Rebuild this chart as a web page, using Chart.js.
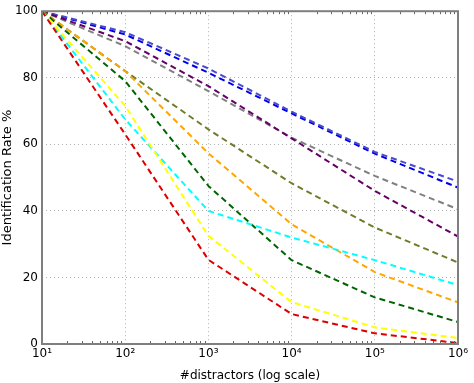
<!DOCTYPE html>
<html>
<head>
<meta charset="utf-8">
<script src="https://cdn.jsdelivr.net/npm/chart.js@4/dist/chart.umd.min.js"></script>
<style>
html,body{margin:0;padding:0;background:#fff;}
#wrap{width:474px;height:383px;position:relative;}
</style>
</head>
<body>
<div id="wrap"><canvas id="c" width="474" height="383"></canvas></div>
<script>
const distractors = [10, 100, 1000, 10000, 100000, 1000000];
const xMajorTicks = [10, 100, 1000, 10000, 100000, 1000000];
const xTickLabels = ['10\u00B9', '10\u00B2', '10\u00B3', '10\u2074', '10\u2075', '10\u2076'];
const yTicks = [0, 20, 40, 60, 80, 100];

const blueA  = [100, 93.7, 82.8, 69.8, 57.7, 48.8];
const blueB  = [100, 93.0, 81.5, 69.3, 57.2, 47.0];
const grayS  = [100, 89.5, 76.0, 62.0, 50.5, 40.5];
const purple = [100, 91.0, 77.5, 61.8, 46.0, 32.3];
const olive  = [100, 82.0, 64.5, 48.3, 35.0, 24.5];
const orange = [100, 82.0, 57.3, 36.0, 21.6, 12.5];
const green  = [100, 79.0, 47.5, 25.2, 14.0, 6.6];
const cyan   = [100, 67.5, 40.0, 32.0, 25.2, 17.7];
const yellow = [100, 71.5, 32.5, 12.6, 5.0, 1.8];
const red    = [100, 63.0, 25.3, 9.0, 3.2, 0.3];

const seriesList = [
  {name: 'red', data: red, color: '#dd0000'},
  {name: 'yellow', data: yellow, color: '#ffff00'},
  {name: 'cyan', data: cyan, color: '#00ffff'},
  {name: 'green', data: green, color: '#006400'},
  {name: 'orange', data: orange, color: '#ffa500'},
  {name: 'olive', data: olive, color: '#6b7f2a'},
  {name: 'purple', data: purple, color: '#660066'},
  {name: 'gray', data: grayS, color: '#808080'},
  {name: 'blueA', data: blueA, color: '#4a4acc'},
  {name: 'blueB', data: blueB, color: '#0000ee'}
];

const framePlugin = {
  id: 'frame',
  afterDraw(chart) {
    const ctx = chart.ctx, a = chart.chartArea, xs = chart.scales.x, ys = chart.scales.y;
    ctx.save();
    // minor ticks (inward, top and bottom)
    ctx.strokeStyle = '#666';
    ctx.lineWidth = 1;
    ctx.beginPath();
    for (let d = 10; d < 1000000; d *= 10) {
      for (let m = 2; m <= 9; m++) {
        const px = Math.round(xs.getPixelForValue(d * m)) + 0.5;
        ctx.moveTo(px, a.bottom); ctx.lineTo(px, a.bottom - 3);
        ctx.moveTo(px, a.top); ctx.lineTo(px, a.top + 3);
      }
    }
    ctx.stroke();
    // frame
    ctx.strokeStyle = '#7f7f7f';
    ctx.lineWidth = 2;
    ctx.strokeRect(a.left, a.top, a.right - a.left, a.bottom - a.top);
    ctx.restore();
  }
};

new Chart(document.getElementById('c'), {
  type: 'line',
  data: {
    datasets: seriesList.map(s => ({
      label: s.name,
      data: distractors.map((x, i) => ({x: x, y: s.data[i]})),
      borderColor: s.color,
      backgroundColor: s.color,
      borderWidth: 2,
      borderDash: [6, 4],
      pointRadius: 0,
      tension: 0,
      fill: false
    }))
  },
  options: {
    responsive: false,
    animation: false,
    layout: {padding: {top: 4, right: 16, left: 0, bottom: 0}},
    plugins: {legend: {display: false}, tooltip: {enabled: false}},
    scales: {
      x: {
        type: 'logarithmic',
        min: 10, max: 1000000,
        afterBuildTicks: s => { s.ticks = xMajorTicks.map(v => ({value: v})); },
        afterFit: s => { s.height = 39; },
        ticks: {
          autoSkip: false, maxRotation: 0, padding: 3,
          color: '#000',
          font: {family: 'DejaVu Sans', size: 12},
          callback: (v) => { const i = xMajorTicks.indexOf(v); return i >= 0 ? xTickLabels[i] : ''; }
        },
        grid: {color: '#b0b0b0', lineWidth: 1, drawTicks: false},
        border: {display: false, dash: [1, 3]},
        title: {display: true, text: '#distractors (log scale)', color: '#000',
                font: {family: 'DejaVu Sans', size: 12}, padding: {top: 0, bottom: 0}}
      },
      y: {
        min: 0, max: 100,
        afterBuildTicks: s => { s.ticks = yTicks.map(v => ({value: v})); },
        afterFit: s => { s.width = 42; },
        ticks: {padding: 4, color: '#000', font: {family: 'DejaVu Sans', size: 12}},
        grid: {color: '#b0b0b0', lineWidth: 1, drawTicks: false},
        border: {display: false, dash: [1, 3]},
        title: {display: true, text: 'Identification Rate %', color: '#000',
                font: {family: 'DejaVu Sans', size: 13}, padding: {top: 0, bottom: 2}}
      }
    }
  },
  plugins: [framePlugin]
});
</script>
</body>
</html>
